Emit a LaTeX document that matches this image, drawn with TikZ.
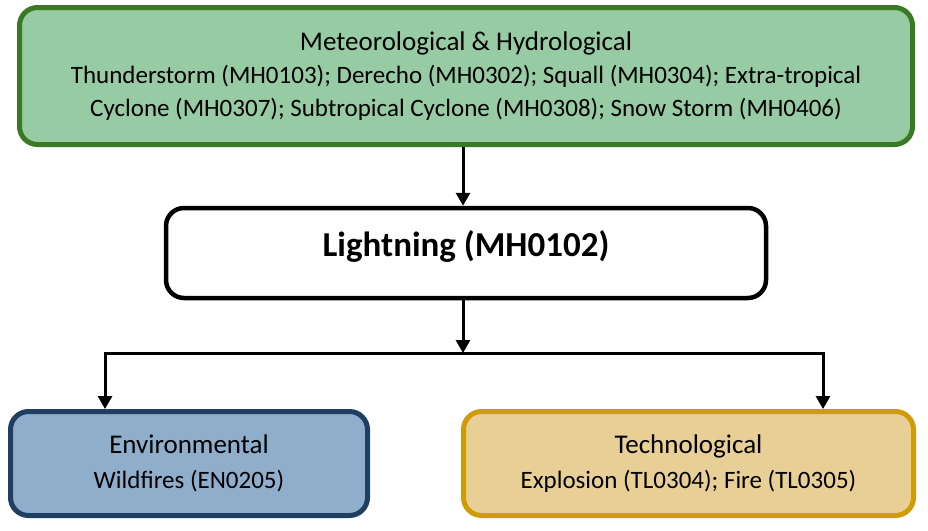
\documentclass[tikz,border=0pt]{standalone}
\usepackage{fontspec}
\setmainfont{Carlito}
\usetikzlibrary{arrows.meta, positioning, calc}
\definecolor{MeteoLine}{RGB}{58,122,36}
\definecolor{MeteoFill}{RGB}{151,203,164}
\definecolor{EnvLine}{RGB}{30,62,98}
\definecolor{EnvFill}{RGB}{143,174,203}
\definecolor{TechLine}{RGB}{207,156,6}
\definecolor{TechFill}{RGB}{232,207,150}
\newcommand{\headfont}{\fontsize{27}{33}\selectfont}

\begin{document}
\begin{tikzpicture}[x=1pt, y=-1pt,
    hazard/.style={rounded corners=18pt, line width=5pt, align=center,
                   inner sep=0pt, font=\fontsize{25}{33}\selectfont},
    link/.style={line width=3pt, -{Triangle[width=14pt,length=13pt]}}]
      \useasboundingbox (0,0) rectangle (928,530);
      \node[hazard, draw=MeteoLine, fill=MeteoFill,
            minimum width=893pt, minimum height=137pt] (meteo) at (466,76)
        {{\headfont Meteorological \& Hydrological}\\
         Thunderstorm (MH0103); Derecho (MH0302); Squall (MH0304); Extra-tropical\\
         Cyclone (MH0307); Subtropical Cyclone (MH0308); Snow Storm (MH0406)};
      \node[hazard, draw=black, fill=white, line width=4.5pt,
            minimum width=600pt, minimum height=90pt, text depth=18pt,
            font=\fontsize{35}{40}\selectfont\bfseries] (light) at (466,253)
        {Lightning (MH0102)};
      \node[hazard, draw=EnvLine, fill=EnvFill,
            minimum width=357pt, minimum height=104pt] (env) at (189,463.5)
        {{\headfont Environmental}\\[2pt] Wildfires (EN0205)};
      \node[hazard, draw=TechLine, fill=TechFill,
            minimum width=450pt, minimum height=104pt] (tech) at (688.5,463.5)
        {{\headfont Technological}\\[2pt] Explosion (TL0304); Fire (TL0305)};
      % connectors
      \coordinate (split) at (463,353);
      \draw[link] (meteo.south -| split) -- (light.north -| split);
      \draw[link] (light.south -| split) -- (split);
      \draw[link] (split) -| ([xshift=-84pt]env.north);
      \draw[link] (split) -| ([xshift=134.5pt]tech.north);
    \end{tikzpicture}
\end{document}
